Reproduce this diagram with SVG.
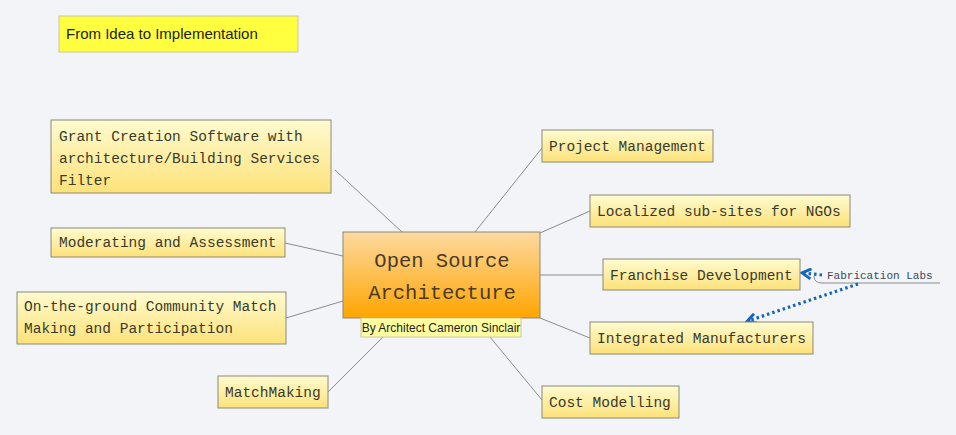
<svg xmlns="http://www.w3.org/2000/svg" width="956" height="435" viewBox="0 0 956 435">
<defs>
<linearGradient id="yg" x1="0" y1="0" x2="0" y2="1"><stop offset="0" stop-color="#fffbd0"/><stop offset="1" stop-color="#fde27a"/></linearGradient>
<linearGradient id="og" x1="0" y1="0" x2="0" y2="1"><stop offset="0" stop-color="#fdd9a0"/><stop offset="1" stop-color="#ffa500"/></linearGradient>
<marker id="ah" markerWidth="12" markerHeight="12" refX="9" refY="6" orient="auto" markerUnits="userSpaceOnUse"><path d="M1,1 L10,6 L1,11" fill="none" stroke="#1565c0" stroke-width="2.8"/></marker>
</defs>
<style>
.n{fill:url(#yg);stroke:#8a8a7a;stroke-width:1}
.t{font-family:"Liberation Mono",monospace;font-size:14.5px;fill:#3a3a2a}
.l{stroke:#8c8c8c;stroke-width:1}
.d{stroke:#1565c0;stroke-width:3.2;stroke-dasharray:2.5,3;fill:none}
</style>
<rect width="956" height="435" fill="#f2f4f8"/>
<g id="title"><rect x="59" y="16" width="239" height="36" fill="#ffff40" stroke="#c8c8a0"/><text x="66" y="39" font-family="Liberation Sans,sans-serif" font-size="15" fill="#222">From Idea to Implementation</text></g>
<g id="connectors">
<line class="l" x1="335" y1="170" x2="402" y2="232"/>
<line class="l" x1="285" y1="243" x2="343" y2="256"/>
<line class="l" x1="286" y1="318" x2="343" y2="301"/>
<line class="l" x1="328" y1="392" x2="383" y2="337"/>
<line class="l" x1="542" y1="148" x2="475" y2="232"/>
<line class="l" x1="590" y1="211" x2="540" y2="233"/>
<line class="l" x1="603" y1="275" x2="540" y2="275"/>
<line class="l" x1="540" y1="318" x2="590" y2="338"/>
<line class="l" x1="490" y1="337" x2="542" y2="400"/>
<path class="l" d="M814,276 Q814,283 822,283 L940,283" fill="none"/>
<line class="d" x1="822" y1="275" x2="803" y2="273" marker-end="url(#ah)"/>
<line class="d" x1="858" y1="284" x2="748" y2="321" marker-end="url(#ah)"/>
</g>
<g id="grant"><rect class="n" x="51" y="120" width="280" height="73"/><text class="t" x="59" y="141">Grant Creation Software with</text><text class="t" x="59" y="163">architecture/Building Services</text><text class="t" x="59" y="185">Filter</text></g>
<g id="moderating"><rect class="n" x="51" y="228" width="234" height="29"/><text class="t" x="59" y="247">Moderating and Assessment</text></g>
<g id="ground"><rect class="n" x="17" y="292" width="269" height="52"/><text class="t" x="24" y="311">On-the-ground Community Match</text><text class="t" x="24" y="333">Making and Participation</text></g>
<g id="matchmaking"><rect class="n" x="218" y="376" width="110" height="32"/><text class="t" x="225" y="397">MatchMaking</text></g>
<g id="center"><rect x="343" y="232" width="197" height="86" fill="url(#og)" stroke="#8a8a7a"/><text x="442" y="267" text-anchor="middle" font-family="Liberation Mono,monospace" font-size="20.5" fill="#4a3a2a">Open Source</text><text x="442" y="299" text-anchor="middle" font-family="Liberation Mono,monospace" font-size="20.5" fill="#4a3a2a">Architecture</text>
<rect x="361" y="318" width="160" height="19" fill="#ffffa0" stroke="#c8c8a0"/><text x="441" y="332" text-anchor="middle" font-family="Liberation Sans,sans-serif" font-size="12" fill="#222">By Architect Cameron Sinclair</text></g>
<g id="project"><rect class="n" x="542" y="130" width="171" height="32"/><text class="t" x="549" y="151">Project Management</text></g>
<g id="localized"><rect class="n" x="590" y="195" width="260" height="32"/><text class="t" x="597" y="216">Localized sub-sites for NGOs</text></g>
<g id="franchise"><rect class="n" x="603" y="259" width="197" height="31"/><text class="t" x="610" y="280">Franchise Development</text></g>
<g id="integrated"><rect class="n" x="590" y="322" width="223" height="32"/><text class="t" x="597" y="343">Integrated Manufacturers</text></g>
<g id="cost"><rect class="n" x="542" y="386" width="137" height="32"/><text class="t" x="549" y="407">Cost Modelling</text></g>
<g id="fablabs"><text x="827" y="279" font-family="Liberation Mono,monospace" font-size="11" fill="#3a4a5a">Fabrication Labs</text></g>
</svg>
